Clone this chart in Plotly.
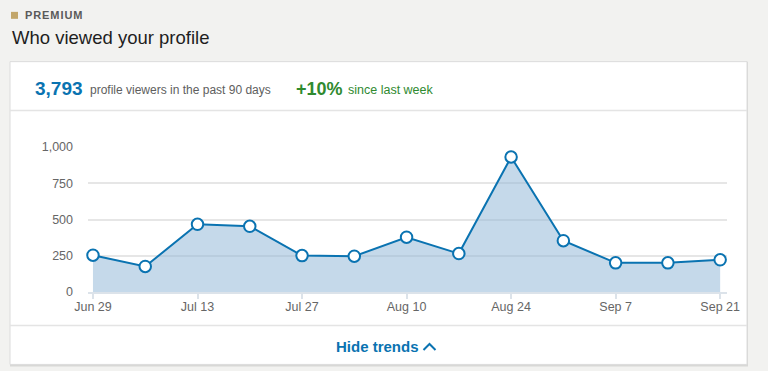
import plotly.graph_objects as go

# ---- data ----
weeks = ["2023-06-29", "2023-07-06", "2023-07-13", "2023-07-20", "2023-07-27",
         "2023-08-03", "2023-08-10", "2023-08-17", "2023-08-24", "2023-08-31",
         "2023-09-07", "2023-09-14", "2023-09-21"]
viewers = [254, 176, 467, 453, 251, 247, 378, 265, 931, 354, 201, 201, 222]
x_tick_vals = ["2023-06-29", "2023-07-13", "2023-07-27", "2023-08-10",
               "2023-08-24", "2023-09-07", "2023-09-21"]
x_tick_text = ["Jun 29", "Jul 13", "Jul 27", "Aug 10", "Aug 24", "Sep 7", "Sep 21"]
y_tick_vals = [0, 250, 500, 750, 1000]
y_tick_text = ["0", "250", "500", "750", "1,000"]

W, H = 768, 371
PL, PR, PT, PB = 88, 727, 146.7, 292.3
FONT = "Liberation Sans, Arial, sans-serif"
BLUE = "#0a73b1"
GREEN = "#2f8a2f"
BG = "#f2f2f0"


def px(x):
    return (x - PL) / (PR - PL)


def py(y):
    return (PB - y) / (PB - PT)


fig = go.Figure()
fig.add_trace(go.Scatter(
    x=weeks, y=viewers, mode="lines+markers",
    line=dict(color=BLUE, width=2),
    fill="tozeroy", fillcolor="rgba(140,180,213,0.5)",
    marker=dict(size=11.5, color="white", line=dict(color=BLUE, width=2)),
    cliponaxis=False, hoverinfo="skip", showlegend=False,
))

shapes = []
# card shadow + card
shapes.append(dict(type="rect", xref="paper", yref="paper", layer="below",
                   x0=px(10), x1=px(748), y0=py(61), y1=py(367),
                   fillcolor="#d8d8d6", line=dict(width=0)))
shapes.append(dict(type="rect", xref="paper", yref="paper", layer="below",
                   x0=px(10), x1=px(747), y0=py(61), y1=py(365),
                   fillcolor="white", line=dict(color="#dcdcdc", width=1)))
# separators
for yy in (110, 326):
    shapes.append(dict(type="line", xref="paper", yref="paper", layer="below",
                       x0=px(10), x1=px(747), y0=py(yy), y1=py(yy),
                       line=dict(color="#e4e4e4", width=1.5)))
# premium square
shapes.append(dict(type="rect", xref="paper", yref="paper", layer="below",
                   x0=px(11), x1=px(18), y0=py(11), y1=py(18),
                   fillcolor="#c2a66a", line=dict(width=0)))
# chevron after "Hide trends"
shapes.append(dict(type="path", xref="paper", yref="paper", layer="above",
                   path="M {} {} L {} {} L {} {}".format(px(423.5), py(350.5), px(429.5), py(344.5), px(435.5), py(350.5)),
                   line=dict(color=BLUE, width=2)))

annotations = [
    dict(text="<b>P\u200aR\u200aE\u200aM\u200aI\u200aU\u200aM</b>", x=px(23), y=py(14.5),
         font=dict(size=11, color="#5a5a5a", family=FONT)),
    dict(text="Who viewed your profile", x=px(10), y=py(37),
         font=dict(size=18.5, color="#1e1e1e", family=FONT)),
    dict(text="<b>3,793</b>", x=px(33), y=py(88),
         font=dict(size=19, color=BLUE, family=FONT)),
    dict(text="profile viewers in the past 90 days", x=px(88), y=py(89),
         font=dict(size=12, color="#5e5e5e", family=FONT)),
    dict(text="<b>+10%</b>", x=px(294), y=py(88),
         font=dict(size=18, color=GREEN, family=FONT)),
    dict(text="since last week", x=px(346), y=py(89),
         font=dict(size=12.5, color=GREEN, family=FONT)),
    dict(text="<b>Hide trends</b>", x=px(334), y=py(347),
         font=dict(size=15, color=BLUE, family=FONT)),
]
for a in annotations:
    a.update(xref="paper", yref="paper", xanchor="left", yanchor="middle",
             showarrow=False)

fig.update_layout(
    width=W, height=H, autosize=False,
    margin=dict(l=PL, r=W - PR, t=PT, b=H - PB, pad=0),
    paper_bgcolor=BG, plot_bgcolor="rgba(0,0,0,0)",
    font=dict(family=FONT, size=12, color="#666666"),
    shapes=shapes, annotations=annotations,
    xaxis=dict(
        type="date",
        range=["2023-06-28 08:00", "2023-09-21 22:00"],
        tickvals=x_tick_vals, ticktext=x_tick_text,
        showgrid=False, zeroline=False,
        showline=True, linecolor="#dce3ea", linewidth=1.5,
        ticks="outside", ticklen=5, tickcolor="#dce3ea", tickwidth=1.5,
        ticklabelstandoff=-3,
        tickfont=dict(size=12.5, color="#666666"),
        fixedrange=True,
    ),
    yaxis=dict(
        range=[0, 1000],
        tickvals=y_tick_vals, ticktext=y_tick_text,
        showgrid=True, gridcolor="#e6e6e6", gridwidth=1.5,
        zeroline=False, showline=False, ticks="",
        ticklabelstandoff=14,
        tickfont=dict(size=12.5, color="#666666"),
        fixedrange=True,
    ),
)

fig.write_html(
    "out.html",
    config={"displayModeBar": False},
    post_script="document.body.style.margin='0';document.body.style.background='%s';" % BG,
)
